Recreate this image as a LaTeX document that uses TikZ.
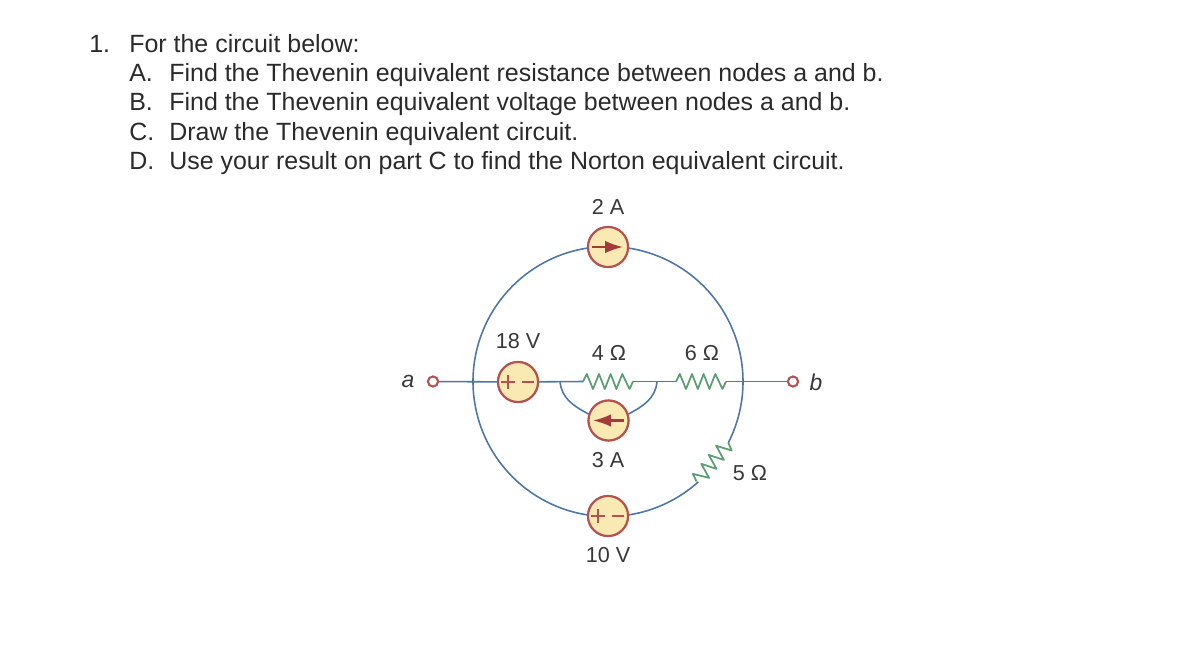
\documentclass[tikz,border=0pt]{standalone}
\usepackage{fontspec}
\setmainfont{Liberation Sans}
\usetikzlibrary{arrows.meta,calc}
\definecolor{wireblue}{HTML}{4F76A8}
\definecolor{srcred}{HTML}{B5524F}
\definecolor{srcfill}{HTML}{F9E9B2}
\definecolor{resgreen}{HTML}{5C9E72}
\definecolor{arrowred}{HTML}{A33B3B}
\definecolor{inktext}{HTML}{2A2A2A}
\tikzset{
  x=0.02cm,y=0.02cm,
  wire/.style={draw=wireblue,line width=0.9pt},
  source/.style={circle,draw=srcred,fill=srcfill,line width=1.2pt,minimum size=0.8cm,inner sep=0pt},
  terminal/.style={circle,draw=srcred,fill=white,line width=1.1pt,minimum size=0.2cm,inner sep=0pt},
  prose/.style={anchor=base west,inner sep=0pt,text=inktext,font=\fontsize{14.2}{17}\selectfont},
  lab/.style={inner sep=0pt,text=black!78,font=\fontsize{12.3}{15}\selectfont},
  termlab/.style={inner sep=0pt,text=black!78,font=\fontsize{13}{15}\selectfont\itshape},
  sign/.style={draw=srcred,line width=1pt},
  flow/.style={draw=arrowred,line width=1.2pt,-{Latex[length=0.36cm,width=0.25cm]}},
  zig/.style={draw=resgreen,line width=1pt,line join=round},
  pics/zigzag/.style={code={
    \path[zig] (0,0) -- (3.8,7.5) -- (10,-7.5) -- (16,7.5) -- (21.8,-7.5)
      -- (27.6,7.5) -- (33.4,-7.5) -- (39.3,7.5) -- (46.5,-7.5) -- (50,0);
  }},
  pics/polarity/.style={code={
    \path[sign] (-17,0) -- (-3,0) (-10,-7) -- (-10,7) (4,0) -- (15.5,0);
  }}
}
\begin{document}
\begin{tikzpicture}
\useasboundingbox (0,0) rectangle (1182,654);
% prose
\node[prose] (l0) at (89,602) {1.};
\node[prose] (l1) at (129,602) {For the circuit below:};
\node[prose] (la) at (129,573) {A.};
\node[prose] (lat) at (169,573) {Find the Thevenin equivalent resistance between nodes a and b.};
\node[prose] (lb) at (129,544) {B.};
\node[prose] (lbt) at (169,544) {Find the Thevenin equivalent voltage between nodes a and b.};
\node[prose] (lc) at (129,514) {C.};
\node[prose] (lct) at (169,514) {Draw the Thevenin equivalent circuit.};
\node[prose] (ld) at (129,485) {D.};
\node[prose] (ldt) at (169,485) {Use your result on part C to find the Norton equivalent circuit.};
% geometry
\coordinate (c) at (608,272.5);
\node[source] (s2) at (608,407) {};
\node[source] (s18) at (518,272) {};
\node[source] (s3) at (608.5,233.5) {};
\node[source] (s10) at (608,138) {};
\node[terminal] (ta) at (433,272.5) {};
\node[terminal] (tb) at (793,272.5) {};
\coordinate (r4a) at (583,272.5);
\coordinate (r4b) at (633,272.5);
\coordinate (r6a) at (676,272.5);
\coordinate (r6b) at (726,272.5);
\coordinate (j1) at (560,272.5);
\coordinate (j2) at (657,272.5);
\coordinate (top1) at ([shift={(98.5:135)}]c);
\coordinate (top2) at ([shift={(81.5:135)}]c);
\coordinate (bot1) at ([shift={(261.5:135)}]c);
\coordinate (bot2) at ([shift={(278.5:135)}]c);
\coordinate (r5a) at ([shift={(-27:135)}]c);
\coordinate (r5b) at ([shift={(-48:135)}]c);
% wires
\draw[wire] (top1) arc[start angle=98.5,end angle=261.5,radius=135];
\draw[wire] (top2) arc[start angle=81.5,end angle=-27,radius=135];
\draw[wire] (r5b) arc[start angle=-48,end angle=-81.5,radius=135];
\draw[wire] (ta) -- (s18);
\draw[wire] (s18) -- (r4a);
\draw[wire] (r4b) -- (r6a);
\draw[wire] (r6b) -- (tb);
\draw[wire] (j1) to[out=-85,in=152] (s3.162);
\draw[wire] (j2) to[out=-95,in=28] (s3.18);
% resistors
\pic at (r4a) {zigzag};
\pic at (r6a) {zigzag};
\pic[rotate=230.5] at (r5a) {zigzag};
% sources on top of wires
\node[source] at (s2) {};
\node[source] at (s18) {};
\node[source] at (s3) {};
\node[source] at (s10) {};
\node[terminal] at (ta) {};
\node[terminal] at (tb) {};
\pic at (s18) {polarity};
\pic at (s10) {polarity};
\coordinate (a2s) at (592,407);
\coordinate (a2e) at (623,407);
\coordinate (a3s) at (624,233.5);
\coordinate (a3e) at (593,233.5);
\draw[flow] (a2s) -- (a2e);
\draw[flow] (a3s) -- (a3e);
% labels
\node[lab] (v2) at (608,447) {2 A};
\node[lab] (v18) at (518,313) {18 V};
\node[lab] (v4) at (609,301) {4 Ω};
\node[lab] (v6) at (702,301) {6 Ω};
\node[lab] (v3) at (608,194) {3 A};
\node[lab] (v5) at (750,181) {5 Ω};
\node[lab] (v10) at (608,99) {10 V};
\node[termlab] (na) at (408,273) {a};
\node[termlab] (nb) at (816,272) {b};
\end{tikzpicture}
\end{document}
